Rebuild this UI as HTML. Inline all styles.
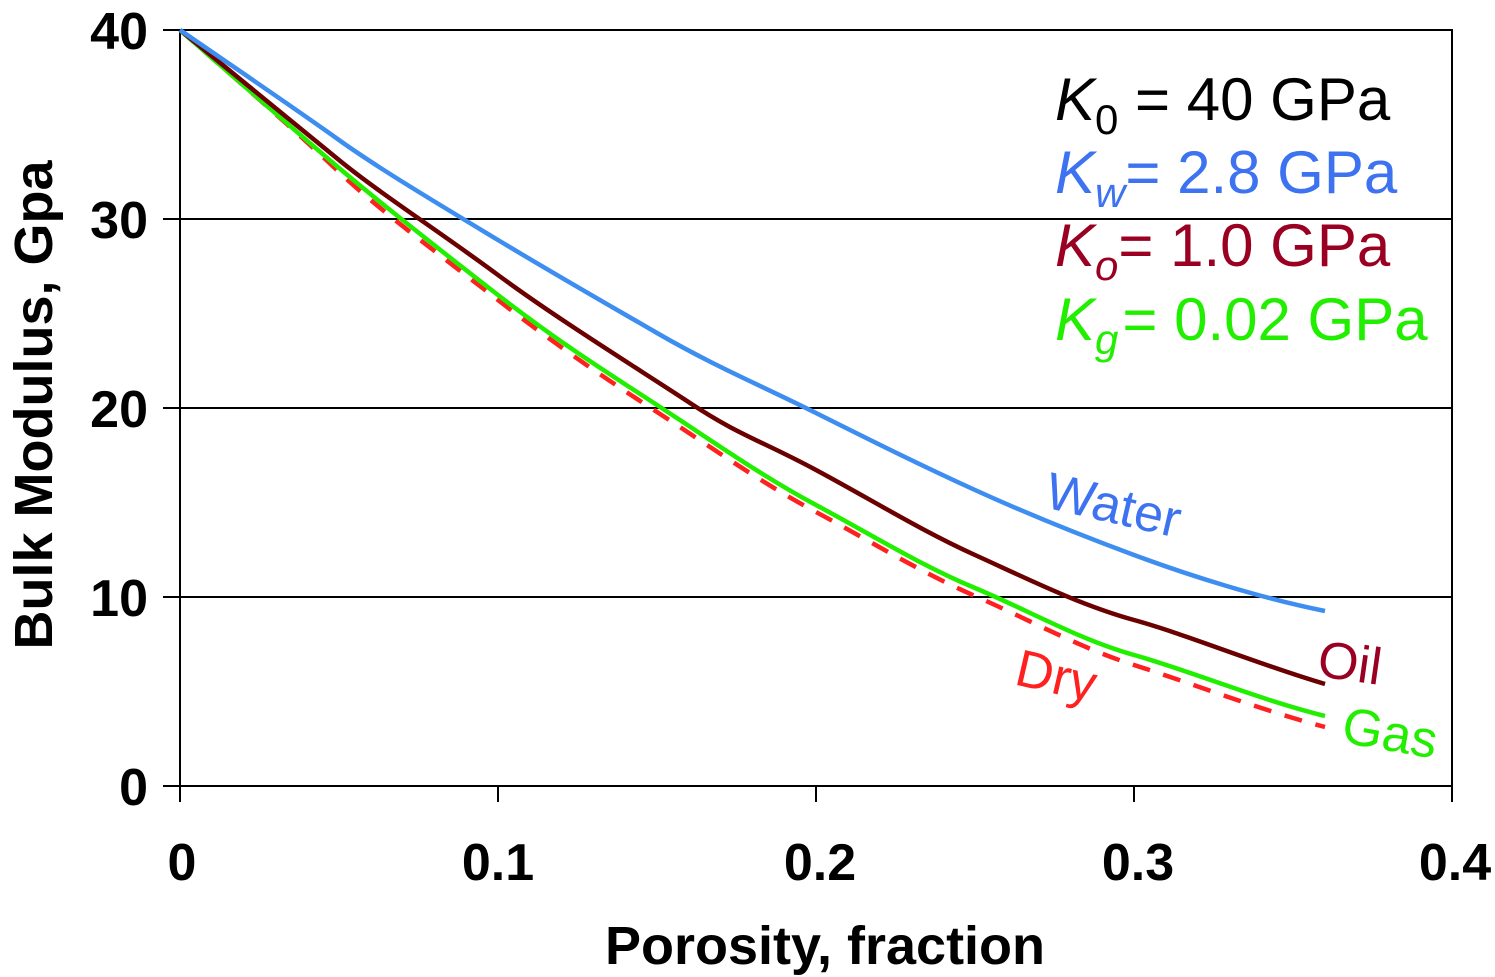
<!DOCTYPE html>
<html><head><meta charset="utf-8"><style>body{margin:0;background:#fff}svg{display:block}</style></head>
<body>
<svg width="1495" height="977" viewBox="0 0 1495 977" xmlns="http://www.w3.org/2000/svg" font-family="Liberation Sans, Arial, sans-serif">
<g stroke="#000" stroke-width="2" fill="none">
<rect x="180" y="30" width="1272" height="756"/>
<line x1="163" y1="30" x2="180" y2="30"/>
<line x1="163" y1="219" x2="1452" y2="219"/>
<line x1="163" y1="408" x2="1452" y2="408"/>
<line x1="163" y1="597" x2="1452" y2="597"/>
<line x1="163" y1="786" x2="180" y2="786"/>
<line x1="180" y1="786" x2="180" y2="802"/>
<line x1="498" y1="786" x2="498" y2="802"/>
<line x1="816" y1="786" x2="816" y2="802"/>
<line x1="1134" y1="786" x2="1134" y2="802"/>
<line x1="1452" y1="786" x2="1452" y2="802"/>
</g>
<g font-weight="bold" font-size="52" fill="#000">
<text x="148" y="49" text-anchor="end">40</text>
<text x="148" y="238" text-anchor="end">30</text>
<text x="148" y="427" text-anchor="end">20</text>
<text x="148" y="616" text-anchor="end">10</text>
<text x="148" y="805" text-anchor="end">0</text>
<text x="182" y="880" text-anchor="middle">0</text>
<text x="498" y="880" text-anchor="middle">0.1</text>
<text x="820" y="880" text-anchor="middle">0.2</text>
<text x="1138" y="880" text-anchor="middle">0.3</text>
<text x="1455" y="880" text-anchor="middle">0.4</text>
<text x="825" y="964" text-anchor="middle" font-size="54">Porosity, fraction</text>
<text transform="translate(52,405) rotate(-90)" text-anchor="middle" font-size="54">Bulk Modulus, Gpa</text>
</g>
<g fill="none" stroke-width="4.5" stroke-linejoin="round" stroke-linecap="butt">
<path stroke="#ff2020" stroke-dasharray="18,14" d="M180,30 C260,100 300,135 339,172 S440,255 498,300 S600,375 657,412 S760,482 816,512 S920,572 975,596 S1080,648 1134,665 S1260,710 1325,727"/>
<path stroke="#22ee00" d="M180,30 C260,100 300,135 339,168 S440,250 498,295 S600,368 657,405 S760,475 816,505 S920,565 975,588 S1080,640 1134,655 S1260,700 1325,716"/>
<path stroke="#6a0000" d="M180,30 C260,95 300,128 339,160 S440,232 498,275 S640,370 690,403 S760,440 816,470 S920,530 975,555 S1080,605 1134,620 S1260,665 1325,684"/>
<path stroke="#3d8ef0" d="M180,30 C260,85 300,112 339,140 S440,205 498,240 S600,300 657,333 S760,385 816,413 S920,465 975,490 S1080,535 1134,555 S1260,598 1325,611"/>
</g>
<g font-size="60">
<text x="1055" y="120" fill="#000"><tspan font-style="italic">K</tspan><tspan font-size="42" dy="14">0</tspan><tspan dy="-14"> = 40 GPa</tspan></text>
<text x="1055" y="193" fill="#3d72f0"><tspan font-style="italic">K</tspan><tspan font-size="42" dy="14" font-style="italic">w</tspan><tspan dy="-14">= 2.8 GPa</tspan></text>
<text x="1055" y="266" fill="#990022"><tspan font-style="italic">K</tspan><tspan font-size="42" dy="14" font-style="italic">o</tspan><tspan dy="-14">= 1.0 GPa</tspan></text>
<text x="1055" y="340" fill="#22ee00"><tspan font-style="italic">K</tspan><tspan font-size="42" dy="14" font-style="italic">g</tspan><tspan dy="-14" dx="4">= 0.02 GPa</tspan></text>
</g>
<g font-size="52">
<text transform="translate(1043,507) rotate(13)" fill="#3d72f0">Water</text>
<text transform="translate(1316,676) rotate(8)" fill="#990022">Oil</text>
<text transform="translate(1340,742) rotate(10)" fill="#22ee00">Gas</text>
<text transform="translate(1013,684) rotate(13)" fill="#ff2020">Dry</text>
</g>
</svg>
</body></html>
